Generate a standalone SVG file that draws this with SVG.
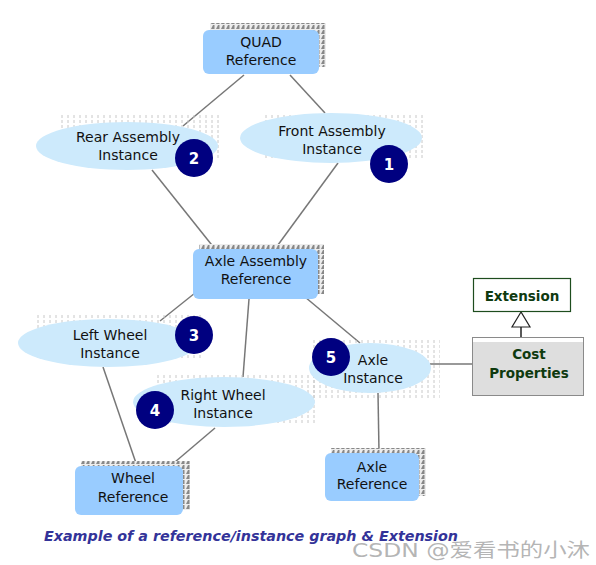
<svg xmlns="http://www.w3.org/2000/svg" width="596" height="565" viewBox="0 0 596 565">
<defs>
<pattern id="hatch" width="5" height="5" patternUnits="userSpaceOnUse">
<rect width="5" height="5" fill="#ededed"/>
<path d="M1 4 L3 0 L4.5 0 L4.5 4 Z" fill="#888"/>
</pattern>
<pattern id="vdash" width="6" height="5" patternUnits="userSpaceOnUse">
<line x1="2" y1="0" x2="2" y2="3" stroke="#c8c8c8" stroke-width="1"/>
</pattern>
</defs>
<style>
.ref{fill:#99ccff;}
.sh{fill:url(#hatch);}
.esh{fill:url(#vdash);}
.inst{fill:#cdeafc;}
.lbl{font-family:"DejaVu Sans",Verdana,sans-serif;font-size:14px;fill:#111;text-anchor:middle;}
.badge{fill:#000080;}
.num{font-family:"DejaVu Sans",Verdana,sans-serif;font-size:15px;font-weight:bold;fill:#fff;text-anchor:middle;}
.conn{stroke:#777;stroke-width:1.5;fill:none;}
.ext{font-family:"DejaVu Sans",Verdana,sans-serif;font-size:13.5px;font-weight:bold;fill:#0f3a0f;text-anchor:middle;}
</style>
<g id="connectors">
<line class="conn" x1="244" y1="75" x2="183" y2="126"/>
<line class="conn" x1="290" y1="75" x2="325" y2="113"/>
<line class="conn" x1="152" y1="170" x2="215" y2="249"/>
<line class="conn" x1="338" y1="163" x2="275" y2="249"/>
<line class="conn" x1="195" y1="293" x2="160" y2="321"/>
<line class="conn" x1="249" y1="299" x2="243" y2="377"/>
<line class="conn" x1="305" y1="297" x2="360" y2="343"/>
<line class="conn" x1="103" y1="367" x2="137" y2="466"/>
<line class="conn" x1="215" y1="428" x2="175" y2="462"/>
<line class="conn" x1="378" y1="393" x2="379" y2="452"/>
<line class="conn" x1="430" y1="364" x2="472" y2="364"/>
<line x1="521" y1="327" x2="521" y2="340" stroke="#222" stroke-width="1.5"/>
<path d="M521 312 L512 327 L530 327 Z" fill="#fff" stroke="#222" stroke-width="1.2"/>
</g>
<g id="quad-ref">
<rect class="sh" x="210" y="23" width="116" height="44"/>
<rect class="ref" x="203" y="30" width="116" height="44" rx="6"/>
<text class="lbl" x="261" y="47">QUAD</text>
<text class="lbl" x="261" y="65">Reference</text>
</g>
<g id="rear-assembly">
<rect class="esh" x="57" y="115" width="165" height="45"/>
<ellipse class="inst" cx="127" cy="146" rx="91" ry="24"/>
<text class="lbl" x="128" y="142">Rear Assembly</text>
<text class="lbl" x="128" y="160">Instance</text>
<circle class="badge" cx="194" cy="158" r="19"/>
<text class="num" x="194" y="164">2</text>
</g>
<g id="front-assembly">
<rect class="esh" x="262" y="115" width="165" height="45"/>
<ellipse class="inst" cx="331" cy="138" rx="91" ry="25"/>
<text class="lbl" x="332" y="136">Front Assembly</text>
<text class="lbl" x="332" y="154">Instance</text>
<circle class="badge" cx="389" cy="164" r="19"/>
<text class="num" x="389" y="170">1</text>
</g>
<g id="axle-assembly-ref">
<rect class="sh" x="199" y="244" width="125" height="50"/>
<rect class="ref" x="193" y="249" width="125" height="50" rx="6"/>
<text class="lbl" x="256" y="266">Axle Assembly</text>
<text class="lbl" x="256" y="284">Reference</text>
</g>
<g id="left-wheel">
<rect class="esh" x="37" y="315" width="165" height="45"/>
<ellipse class="inst" cx="108" cy="343" rx="90" ry="24"/>
<text class="lbl" x="110" y="340">Left Wheel</text>
<text class="lbl" x="110" y="358">Instance</text>
<circle class="badge" cx="194" cy="335" r="19"/>
<text class="num" x="194" y="341">3</text>
</g>
<g id="right-wheel">
<rect class="esh" x="153" y="375" width="165" height="50"/>
<ellipse class="inst" cx="224" cy="402" rx="91" ry="25"/>
<text class="lbl" x="223" y="400">Right Wheel</text>
<text class="lbl" x="223" y="418">Instance</text>
<circle class="badge" cx="155" cy="410" r="19"/>
<text class="num" x="155" y="416">4</text>
</g>
<g id="axle-instance">
<rect class="esh" x="312" y="338" width="128" height="62"/>
<ellipse class="inst" cx="370" cy="368" rx="61" ry="25"/>
<text class="lbl" x="373" y="365">Axle</text>
<text class="lbl" x="373" y="383">Instance</text>
<circle class="badge" cx="331" cy="357" r="19"/>
<text class="num" x="331" y="363">5</text>
</g>
<g id="axle-ref">
<rect class="sh" x="331" y="448" width="95" height="48"/>
<rect class="ref" x="325" y="453" width="94" height="48" rx="6"/>
<text class="lbl" x="372" y="472">Axle</text>
<text class="lbl" x="372" y="489">Reference</text>
</g>
<g id="wheel-ref">
<rect class="sh" x="81" y="461" width="109" height="49"/>
<rect class="ref" x="75" y="466" width="108" height="49" rx="6"/>
<text class="lbl" x="133" y="483">Wheel</text>
<text class="lbl" x="133" y="502">Reference</text>
</g>
<g id="extension">
<rect x="473.5" y="278.5" width="97" height="33" fill="#fff" stroke="#1e4d1e" stroke-width="1.2"/>
<text class="ext" x="522" y="301">Extension</text>
</g>
<g id="cost-properties">
<rect x="472.5" y="337.5" width="111" height="58" fill="#dedede" stroke="#8a8a8a" stroke-width="1"/>
<rect x="473" y="338" width="110" height="4" fill="#fff"/>
<text class="ext" x="529" y="359">Cost</text>
<text class="ext" x="529" y="378">Properties</text>
</g>
<text x="44" y="541" font-family="'DejaVu Sans',Verdana,sans-serif" font-size="13.5" font-weight="bold" font-style="italic" fill="#333399" textLength="414" lengthAdjust="spacingAndGlyphs">Example of a reference/instance graph &amp; Extension</text>
<text x="352" y="557" font-family="'DejaVu Sans','Noto Sans CJK SC',sans-serif" font-size="19" fill="#a8a8a8" fill-opacity="0.85" textLength="238" lengthAdjust="spacingAndGlyphs">CSDN @爱看书的小沐</text>
</svg>
